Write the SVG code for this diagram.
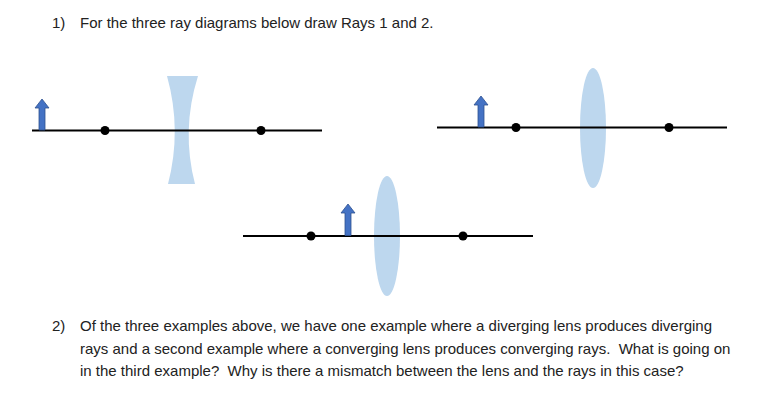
<svg xmlns="http://www.w3.org/2000/svg" width="778" height="412" viewBox="0 0 778 412">
<style>
text{font-family:"Liberation Sans",Arial,sans-serif;font-size:15px;fill:#222;white-space:pre}
.ax{stroke:#000;stroke-width:2}
.lens{fill:#bdd7ee}
.dot{fill:#000}
.obj{fill:#4472c4;stroke:#2f528f;stroke-width:0.8}
</style>
<rect width="778" height="412" fill="#fff"/>
<text x="52" y="28">1)</text>
<text x="80" y="28">For the three ray diagrams below draw Rays 1 and 2.</text>
<g id="diagram1">
<path class="lens" d="M167,76 L198,76 Q181,130 195,184 L168,184 Q182,130 167,76 Z"/>
<line class="ax" x1="32" y1="130.5" x2="322" y2="130.5"/>
<circle class="dot" cx="105" cy="130.5" r="4.5"/>
<circle class="dot" cx="261" cy="130.5" r="4.5"/>
<path class="obj" d="M39,130 L39,108 L35,108 L42,99 L49,108 L45,108 L45,130 Z"/>
</g>
<g id="diagram2">
<ellipse class="lens" cx="593" cy="128" rx="13" ry="60"/>
<line class="ax" x1="437" y1="127.5" x2="727" y2="127.5"/>
<circle class="dot" cx="516" cy="127.5" r="4.5"/>
<circle class="dot" cx="669" cy="127.5" r="4.5"/>
<path class="obj" d="M478,127 L478,105 L474,105 L481,96 L488,105 L484,105 L484,127 Z"/>
</g>
<g id="diagram3">
<ellipse class="lens" cx="387" cy="236" rx="13" ry="60"/>
<line class="ax" x1="243" y1="236" x2="533" y2="236"/>
<circle class="dot" cx="311" cy="236" r="4.5"/>
<circle class="dot" cx="463" cy="236" r="4.5"/>
<path class="obj" d="M345,235.5 L345,213 L341,213 L348,204 L355,213 L351,213 L351,235.5 Z"/>
</g>
<g id="connectors"/>
<text x="52" y="331">2)</text>
<text x="80" y="331">Of the three examples above, we have one example where a diverging lens produces diverging</text>
<text x="80" y="354">rays and a second example where a converging lens produces converging rays.  What is going on</text>
<text x="80" y="376">in the third example?  Why is there a mismatch between the lens and the rays in this case?</text>
</svg>
